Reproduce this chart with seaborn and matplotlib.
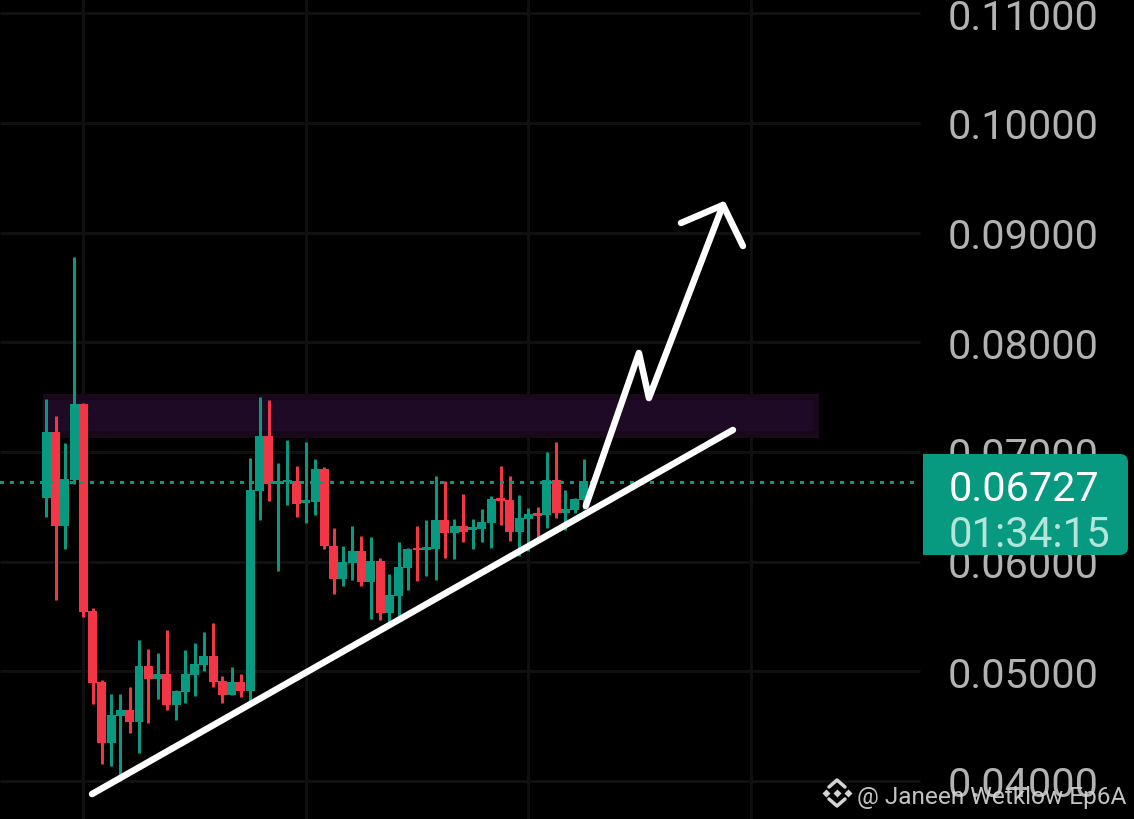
import numpy as np
import pandas as pd
import matplotlib
matplotlib.use("Agg")
import matplotlib.pyplot as plt
from matplotlib.patches import Rectangle, FancyBboxPatch
from matplotlib.lines import Line2D
import seaborn as sns

opens = [.06580,.07181,.06325,.06744,.07437,.05550,.04902,.04346,.04593,.04647,.04538,.05048,.04930,.04975,.04693,
         .04811,.04966,.05057,.05140,.04912,.04784,.04902,.04820,.06644,.07145,.06707,.06726,.06735,.06534,.06543,
         .06844,.06142,.05841,.05987,.06097,.05814,.06006,.05531,.05686,.05942,.06124,.06106,.06115,.06379,.06261,
         .06325,.06288,.06297,.06352,.06580,.06562,.06270,.06388,.06443,.06425,.06744,.06443,.06470,.06562]
closes = [.07181,.06325,.06753,.07437,.05541,.04893,.04346,.04602,.04647,.04538,.05048,.04930,.04975,.04693,.04820,
          .04975,.05067,.05140,.04902,.04784,.04902,.04820,.06653,.07145,.06707,.06735,.06744,.06525,.06562,.06844,
          .06142,.05841,.05996,.06097,.05814,.06006,.05531,.05696,.05951,.06115,.06106,.06133,.06379,.06261,.06325,
          .06270,.06315,.06361,.06571,.06552,.06270,.06398,.06434,.06416,.06744,.06443,.06480,.06571,.06735]
highs = [.07482,.07327,.07081,.08777,.07446,.05577,.04921,.04793,.04793,.04857,.05285,.05203,.05167,.05377,.04830,
         .05194,.05258,.05358,.05440,.04957,.05039,.04975,.06944,.07501,.07473,.06899,.07109,.06872,.07090,.06935,
         .06862,.06306,.06142,.06325,.06233,.06224,.06033,.05887,.06179,.06124,.06325,.06379,.06780,.06735,.06388,
         .06616,.06388,.06480,.06598,.06872,.06780,.06607,.06489,.06498,.06999,.07090,.06653,.06580,.06935]
lows = [.06407,.05650,.06115,.06707,.05495,.04702,.04155,.04137,.04000,.04438,.04255,.04529,.04748,.04647,.04556,
        .04711,.04775,.05003,.04857,.04711,.04784,.04766,.04711,.06379,.06552,.05914,.06516,.06407,.06352,.06425,
        .06115,.05705,.05778,.05832,.05778,.05477,.05468,.05404,.05504,.05741,.05823,.05869,.05832,.06033,.06024,
        .06179,.06115,.06179,.06124,.06334,.06188,.06051,.06097,.06188,.06306,.06398,.06288,.06443,.06480]

price_ticks = [.04, .05, .06, .07, .08, .09, .10, .11]
price_labels = ["0.04000", "0.05000", "0.06000", "0.07000", "0.08000", "0.09000", "0.10000", "0.11000"]
time_ticks = [4, 28, 52, 76]
last_price = 0.06727
last_label = "0.06727"
countdown = "01:34:15"
watermark = "@ Janeen Wetklow Ep6A"

trend_x = [4.93, 74.07]
trend_y = [.03881, .07200]
path_x = [58.2, 63.93, 65.01, 73.0]
path_y = [.06507, .07902, .07491, .09251]
head_x = [68.47, 73.0, 75.15]
head_y = [.09087, .09251, .08877]
zone_x = [-0.36, 83.35]
zone_y = [.07127, .07528]
zone_inner_x = [-0.36, 82.7]
zone_inner_y = [.07191, .07473]

GREEN, RED = "#089981", "#f23645"
W, H = 1134, 820
DPI = 100

sns.set_theme(style="dark", rc={"figure.facecolor": "black", "axes.facecolor": "black"})
plt.rcParams["font.family"] = ["Roboto", "DejaVu Sans"]

df = pd.DataFrame({"open": opens, "close": closes, "high": highs, "low": lows})
df["idx"] = np.arange(len(df))
df["top"] = df[["open", "close"]].max(axis=1)
df["bottom"] = df[["open", "close"]].min(axis=1)
df["color"] = np.where(df["close"] >= df["open"], GREEN, RED)

fig = plt.figure(figsize=(W / DPI, H / DPI), dpi=DPI, facecolor="black")
ax = fig.add_axes([0, 0, 1, 1])
x0, step = 46.3, 9.27
ax.set_xlim(-x0 / step, (W - x0) / step)
ax.set_ylim(0.04 - 38 * 9.116e-5, 0.04 + 782 * 9.116e-5)
for s in ax.spines.values():
    s.set_visible(False)
ax.set_axisbelow(True)
ax.set_xticks([])
ax.set_yticks(price_ticks)
ax.set_yticklabels(price_labels)
ax.tick_params(axis="y", left=False, right=False, labelleft=False, labelright=True,
               pad=-195 * 72 / DPI, labelsize=29.8, labelcolor="#b2b2b2")
for lab in ax.get_yticklabels():
    lab.set_horizontalalignment("left")
ax.set_xlabel("")
ax.set_ylabel("")

px = lambda v: v * 72 / DPI
grid_right = (920 - x0) / step
GRID = "#101010"
ax.hlines(price_ticks, ax.get_xlim()[0], grid_right, color=GRID, lw=px(3), zorder=1)
ax.vlines(time_ticks, *ax.get_ylim(), color=GRID, lw=px(3), zorder=1)

ax.add_patch(Rectangle((zone_x[0], zone_y[0]), zone_x[1] - zone_x[0], zone_y[1] - zone_y[0],
                       fc="#190819", ec="none", zorder=1.5))
ax.add_patch(Rectangle((zone_inner_x[0], zone_inner_y[0]), zone_inner_x[1] - zone_inner_x[0],
                       zone_inner_y[1] - zone_inner_y[0], fc="#1f0a25", ec="none", zorder=1.6))

ax.vlines(df["idx"], df["low"], df["high"], colors=df["color"], lw=px(3), zorder=2)
ax.bar(df["idx"], df["top"] - df["bottom"], bottom=df["bottom"], width=0.97,
       color=df["color"], linewidth=0, zorder=2.1)

ax.hlines(last_price, ax.get_xlim()[0], grid_right, color=GREEN, lw=px(3),
          linestyles=[(0, (1, 2))], zorder=2.2, antialiased=False)

line_kw = dict(color="white", lw=px(6.5), estimator=None, sort=False, ax=ax, legend=False, zorder=3,
               solid_capstyle="round", solid_joinstyle="round")
sns.lineplot(x=trend_x, y=trend_y, **line_kw)
sns.lineplot(x=path_x, y=path_y, **line_kw)
sns.lineplot(x=head_x, y=head_y, **line_kw)
ax.set_xlim(-x0 / step, (W - x0) / step)
ax.set_ylim(0.04 - 38 * 9.116e-5, 0.04 + 782 * 9.116e-5)

# figure-space helpers (pixels, origin top-left)
fx = lambda x: x / W
fy = lambda y: 1 - y / H
T = fig.transFigure

# price badge
ax.add_patch(FancyBboxPatch((fx(1000), fy(556)), fx(1128 - 1000), (556 - 455) / H,
                            boxstyle="round,pad=0,rounding_size=0.007", mutation_aspect=W / H,
                            fc=GREEN, ec="none", transform=T, zorder=5))
ax.add_patch(Rectangle((fx(923), fy(556)), fx(1100 - 923), (556 - 455) / H, fc=GREEN, ec="none",
                       transform=T, zorder=5))
ax.text(fx(949), fy(486), last_label, transform=T, color="white", fontsize=29.8,
        ha="left", va="center_baseline", zorder=6)
ax.text(fx(949), fy(531), countdown, transform=T, color="#b5e5da", fontsize=30.2,
        ha="left", va="center_baseline", zorder=6)

# watermark
WM = "#d4d4d4"
ax.text(fx(857), fy(795), watermark, transform=T, color=WM, fontsize=17.6,
        ha="left", va="center_baseline", zorder=7, alpha=0.92)
for xs, ys in (([829, 837, 845], [788, 781, 788]), ([829, 837, 845], [800, 807, 800])):
    fig.add_artist(Line2D([fx(v) for v in xs], [fy(v) for v in ys], color=WM, lw=px(3.5),
                          transform=T, zorder=7))
for cx, s in ((826, 5), (848, 5), (837, 6)):
    fig.add_artist(Line2D([fx(cx)], [fy(794)], marker="D", ms=px(s), color=WM, mec="none",
                          transform=T, zorder=7))

fig.savefig("out.png", dpi=DPI, facecolor="black")
